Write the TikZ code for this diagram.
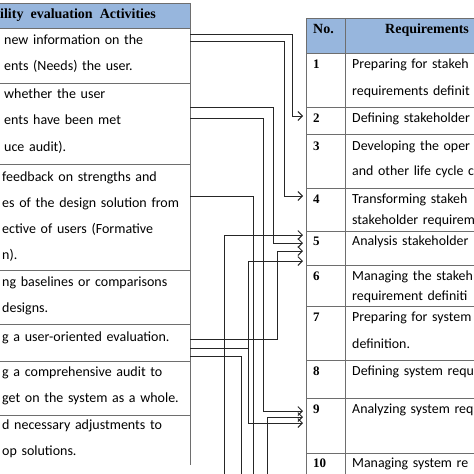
\documentclass[tikz,border=0pt]{standalone}
\usepackage{fontspec}
\setmainfont{Carlito}
\newfontfamily\hdfont{Liberation Serif}
\usetikzlibrary{arrows.meta}
\definecolor{hdblue}{RGB}{151,182,221}
\definecolor{rulegray}{RGB}{110,110,110}

\begin{document}
\begin{tikzpicture}[
    x=1pt, y=-1pt,
    hd/.style={font=\hdfont\bfseries\fontsize{14}{16}\selectfont, inner sep=0pt, anchor=base west},
    num/.style={font=\hdfont\bfseries\fontsize{13}{15}\selectfont, inner sep=0pt, anchor=base west},
    cell/.style={font=\fontsize{14}{#1}\selectfont, inner sep=0pt, anchor=base west, text width=240pt, align=left},
    cell/.default=26,
    rcell/.style={font=\fontsize{13.9}{#1}\selectfont, inner sep=0pt, anchor=base west, text width=200pt, align=left},
    rcell/.default=26,
    grid/.style={draw=rulegray, line width=0.9pt},
    link/.style={draw=black!85, line width=0.9pt},
    arr/.style={link, -{Straight Barb[length=4.5pt,width=9pt]}},
]
    \useasboundingbox (0,0) rectangle (474,474);

    % Left table - evaluation activities
    \fill[hdblue] (-5,3) rectangle (190,28);
    \draw[grid] (-5,3) -- (190,3) -- (190,465);
    \foreach \y in {28,83,164,270,324,361,415}
        \draw[grid] (-5,\y) -- (190,\y);
    \node[hd] (acthead) at (0,18) {ility\enspace evaluation\enspace Activities};
    \node[cell] (act1) at (4,44) {new information on the\\ents (Needs) the user.};
    \node[cell=26.5] (act2) at (4,98) {whether the user\\ents have been met\\uce audit).};
    \node[cell] (act3) at (2,181) {feedback on strengths and\\es of the design solution from\\ective of users (Formative\\n).};
    \node[cell] (act4) at (2,286) {ng baselines or comparisons\\designs.};
    \node[cell] (act5) at (2,341) {g a user-oriented evaluation.};
    \node[cell] (act6) at (2,376) {g a comprehensive audit to\\get on the system as a whole.};
    \node[cell] (act7) at (2,429) {d necessary adjustments to\\op solutions.};

    % Right table - requirements
    \fill[hdblue] (306,18) rectangle (480,53);
    \draw[grid] (306,474) -- (306,18) -- (480,18);
    \draw[grid] (345,18) -- (345,474);
    \foreach \y in {53,107,134,188,231,265,306,360,398,453}
        \draw[grid] (306,\y) -- (480,\y);
    \node[hd] (nohead) at (313,33) {No.};
    \node[hd] (reqhead) at (385,33) {Requirements};
    \foreach \n/\y in {1/68,2/122,3/150,4/203,5/245,6/280,7/321,8/375,9/413,10/467}
        \node[num] (no\n) at (313,\y) {\n};
    \node[rcell=27] (req1) at (352,68) {Preparing for stakeh\\requirements definit};
    \node[rcell] (req2) at (352,122) {Defining stakeholder};
    \node[rcell=25] (req3) at (352,150) {Developing the oper\\and other life cycle c};
    \node[rcell=21] (req4) at (352,203) {Transforming stakeh\\stakeholder requirem};
    \node[rcell] (req5) at (352,245) {Analysis stakeholder};
    \node[rcell=20] (req6) at (352,280) {Managing the stakeh\\requirement definiti};
    \node[rcell=27] (req7) at (352,321) {Preparing for system\\definition.};
    \node[rcell] (req8) at (352,375) {Defining system requ};
    \node[rcell] (req9) at (352,413) {Analyzing system req};
    \node[rcell] (req10) at (352,467) {Managing system re};

    % connector ends
    \coordinate (a1a) at (190,34);
    \coordinate (a1b) at (190,41);
    \coordinate (a2a) at (190,107);
    \coordinate (a2b) at (190,118);
    \coordinate (a3a) at (190,196);
    \coordinate (a5a) at (190,339);
    \coordinate (a5b) at (190,348);
    \coordinate (a5c) at (190,356);
    \coordinate (b1) at (224,474);
    \coordinate (b2) at (267,474);
    \coordinate (b3) at (253,474);
    \coordinate (b4) at (241,474);
    \coordinate (r2) at (303,116);
    \coordinate (r4) at (303,196);
    \coordinate (r5a) at (303,235);
    \coordinate (r5b) at (303,243);
    \coordinate (r5c) at (303,251);
    \coordinate (r5d) at (303,261);
    \coordinate (r9a) at (303,411);
    \coordinate (r9b) at (303,417);
    \coordinate (r9c) at (303,423);

    % connectors
    \draw[arr] (a1a) -- ++(102,0) |- (r2);
    \draw[arr] (a1b) -- ++(94,0) |- (r4);
    \draw[arr] (a2a) -- ++(83,0) |- (r5b);
    \draw[arr] (a2b) -- ++(73,0) |- (r9a);
    \draw[link] (a3a) -| (b3);
    \draw[arr] (b1) |- (r5a);
    \draw[arr] (a5a) -- ++(87,0) |- (r5c);
    \draw[arr] (a5b) -- ++(58,0) |- (r5d);
    \draw[arr] (a5b) -- ++(58,0) |- (r9c);
    \draw[link] (a5c) -| (b4);
    \draw[arr] (b2) |- (r9b);
\end{tikzpicture}
\end{document}
